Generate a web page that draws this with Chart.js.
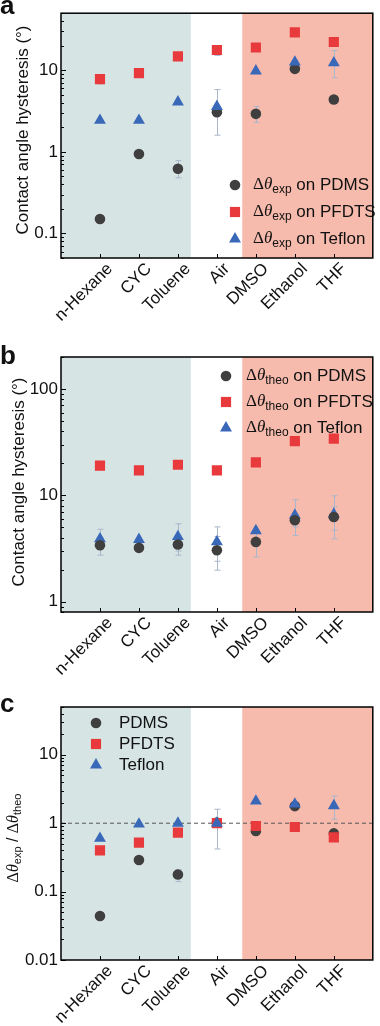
<!DOCTYPE html>
<html><head><meta charset="utf-8">
<script src="https://cdn.jsdelivr.net/npm/chart.js@4.4.1/dist/chart.umd.min.js"></script>
<style>
html,body{margin:0;padding:0;background:#fff;}
body{width:380px;height:1026px;position:relative;overflow:hidden;}
.pane{position:absolute;left:0;width:380px;}
canvas{display:block;}
</style></head><body>
<div class="pane" style="top:0;height:330px"><canvas id="ca" width="380" height="330"></canvas></div>
<div class="pane" style="top:330px;height:360px"><canvas id="cb" width="380" height="360"></canvas></div>
<div class="pane" style="top:670px;height:356px"><canvas id="cc" width="380" height="356"></canvas></div>
<script>
const categories = ['n-Hexane', 'CYC', 'Toluene', 'Air', 'DMSO', 'Ethanol', 'THF'];

// Panel a: experimental contact angle hysteresis (deg)
const expPDMS   = [0.15, 0.94, 0.62, 3.05, 2.92, 10.4, 4.38];
const expPFDTS  = [7.8, 9.2, 14.8, 17.7, 19.0, 29.1, 22.2];
const expTeflon = [2.43, 2.43, 4.08, 3.6, 9.8, 12.6, 12.3];
const expPDMSErr   = [null, null, [0.48, 0.78], null, [2.3, 3.6], null, null];
const expPFDTSErr  = [[6.8, 8.6], null, null, [15.2, 19.8], null, null, null];
const expTeflonErr = [null, null, null, [1.6, 5.8], null, null, [8.1, 17.4]];

// Panel b: theoretical contact angle hysteresis (deg)
const theoPDMS   = [3.40, 3.21, 3.45, 3.05, 3.65, 5.83, 6.26];
const theoPFDTS  = [19.0, 17.2, 19.4, 17.2, 20.4, 32.3, 34.2];
const theoTeflon = [3.9, 3.85, 4.1, 3.65, 4.65, 6.5, 6.65];
const theoPDMSErr   = [[2.74, 4.0], null, [2.74, 4.2], [1.98, 4.1], [2.64, 4.6], [5.05, 6.6], [4.7, 7.8]];
const theoTeflonErr = [[3.1, 4.8], null, [3.0, 5.4], [2.4, 5.05], null, [4.2, 9.1], [3.9, 9.9]];

// Panel c: ratio exp / theo
const ratioPDMS   = [0.044, 0.29, 0.178, 1.02, 0.77, 1.78, 0.71];
const ratioPFDTS  = [0.40, 0.52, 0.73, 1.0, 0.91, 0.88, 0.62];
const ratioTeflon = [0.60, 0.97, 1.0, 1.0, 2.1, 1.9, 1.8];
const ratioPDMSErr   = [null, null, [0.14, 0.21], null, null, null, null];
const ratioTeflonErr = [null, null, null, [0.42, 1.6], null, null, [1.14, 2.5]];
const ratioRefValue = 1;

// Axis ticks
const yTicksA = [0.1, 1, 10];
const yTickLabelsA = ['0.1', '1', '10'];
const yTicksB = [1, 10, 100];
const yTickLabelsB = ['1', '10', '100'];
const yTicksC = [0.01, 0.1, 1, 10];
const yTickLabelsC = ['0.01', '0.1', '1', '10'];

const COL_PDMS = '#3f3f3f', COL_PFDTS = '#e8393c', COL_TEF = '#3a68b8';
const TEAL = '#d6e5e4', PINK = '#f7bbad', ERR = '#a9b6cc';
const SANS = '"Liberation Sans", Arial, sans-serif';
const SERIF = '"Liberation Serif", "Times New Roman", serif';

Chart.defaults.font.family = SANS;
Chart.defaults.color = '#111';

function pts(vals) { return vals.map((v, i) => ({x: i + 1, y: v})); }

function drawRich(ctx, segs, x, y) {
  let cx = x;
  for (const s of segs) {
    ctx.font = s.font;
    ctx.fillText(s.t, cx, y + (s.dy || 0));
    cx += ctx.measureText(s.t).width;
  }
  return cx - x;
}
function richWidth(ctx, segs) {
  let w = 0;
  for (const s of segs) { ctx.font = s.font; w += ctx.measureText(s.t).width; }
  return w;
}

function makeDecor(cfg) {
  return {
    id: 'decor',
    beforeDatasetsDraw(chart) {
      const {ctx, chartArea: a, scales: {x, y}} = chart;
      ctx.save();
      for (const b of cfg.bands) {
        const x0 = Math.max(a.left, x.getPixelForValue(b.from));
        const x1 = Math.min(a.right, x.getPixelForValue(b.to));
        ctx.fillStyle = b.color;
        ctx.fillRect(x0, a.top, x1 - x0, a.bottom - a.top);
      }
      ctx.strokeStyle = ERR; ctx.lineWidth = 1;
      for (const set of cfg.errors) {
        set.forEach((e, i) => {
          if (!e) return;
          const px = Math.round(x.getPixelForValue(i + 1)) + 0.5;
          const p0 = y.getPixelForValue(e[0]), p1 = y.getPixelForValue(e[1]);
          ctx.beginPath();
          ctx.moveTo(px, p0); ctx.lineTo(px, p1);
          ctx.moveTo(px - 3, p0); ctx.lineTo(px + 3, p0);
          ctx.moveTo(px - 3, p1); ctx.lineTo(px + 3, p1);
          ctx.stroke();
        });
      }
      ctx.restore();
    },
    afterDraw(chart) {
      const {ctx, chartArea: a, scales: {x, y}} = chart;
      ctx.save();
      // ticks
      ctx.strokeStyle = '#000'; ctx.lineWidth = 1;
      ctx.beginPath();
      const lo = Math.floor(Math.log10(y.min)), hi = Math.ceil(Math.log10(y.max));
      for (let d = lo; d <= hi; d++) {
        for (let k = 1; k <= 9; k++) {
          const v = k * Math.pow(10, d);
          if (v < y.min * 0.999 || v > y.max * 1.001) continue;
          const py = Math.round(y.getPixelForValue(v)) + 0.5;
          const len = k === 1 ? 5 : 3;
          ctx.moveTo(a.left, py); ctx.lineTo(a.left + len, py);
        }
      }
      for (let i = 1; i <= categories.length; i++) {
        const px = Math.round(x.getPixelForValue(i)) + 0.5;
        ctx.moveTo(px, a.bottom); ctx.lineTo(px, a.bottom - 4);
      }
      ctx.stroke();
      // frame
      ctx.lineWidth = 1.5;
      ctx.strokeRect(a.left, a.top, a.right - a.left, a.bottom - a.top);
      // legend
      ctx.fillStyle = '#111';
      ctx.textBaseline = 'middle';
      for (const it of cfg.legend.items) {
        ctx.fillStyle = it.color;
        Chart.helpers.drawPoint(ctx, {pointStyle: it.style, radius: it.r, rotation: 0, borderWidth: 0}, cfg.legend.mx, it.y);
        ctx.fillStyle = '#111';
        drawRich(ctx, it.segs, cfg.legend.tx, it.y);
      }
      // y title
      ctx.save();
      ctx.translate(cfg.title.x, cfg.title.y);
      ctx.rotate(-Math.PI / 2);
      ctx.textBaseline = 'middle';
      const w = richWidth(ctx, cfg.title.segs);
      drawRich(ctx, cfg.title.segs, -w / 2, 0);
      ctx.restore();
      // panel letter
      ctx.font = 'bold 26px ' + SANS;
      ctx.textBaseline = 'alphabetic';
      ctx.fillText(cfg.letter.t, cfg.letter.x, cfg.letter.y);
      ctx.restore();
    }
  };
}

function legendSegs(sub, name) {
  return [
    {t: 'Δ', font: '17px ' + SERIF},
    {t: 'θ', font: 'italic 17px ' + SERIF},
    {t: sub, font: '12px ' + SANS, dy: 5},
    {t: ' on ' + name, font: '17px ' + SANS}
  ];
}

function makeChart(id, c) {
  const datasets = [
    {label: 'Teflon', data: pts(c.tef), pointStyle: 'triangle', pointRadius: 6.9, backgroundColor: COL_TEF, borderWidth: 0, order: c.orderTef},
    {label: 'PFDTS', data: pts(c.pfd), pointStyle: 'rect', pointRadius: 7.2, backgroundColor: COL_PFDTS, borderWidth: 0, order: 1},
    {label: 'PDMS', data: pts(c.pdms), pointStyle: 'circle', pointRadius: 5.3, backgroundColor: COL_PDMS, borderWidth: 0, order: c.orderPdms}
  ];
  if (c.refLine !== undefined) {
    datasets.push({type: 'line', data: [{x: 0, y: c.refLine}, {x: categories.length + 1, y: c.refLine}],
      borderColor: '#555', borderWidth: 1, borderDash: [4, 3], pointRadius: 0, order: 5});
  }
  return new Chart(document.getElementById(id), {
    type: 'scatter',
    data: {datasets},
    options: {
      responsive: false, animation: false, devicePixelRatio: 1,
      layout: {padding: {left: 0, right: 2, top: c.padTop, bottom: 0}},
      plugins: {legend: {display: false}, tooltip: {enabled: false}},
      scales: {
        x: {
          type: 'linear', min: 0, max: categories.length + 1,
          grid: {display: false, drawTicks: false}, border: {display: false},
          afterBuildTicks: s => { s.ticks = categories.map((_, i) => ({value: i + 1})); },
          afterFit: s => { s.height = c.xH; },
          ticks: {minRotation: 45, maxRotation: 45, autoSkip: false, padding: 1, labelOffset: 10,
            font: {size: 17}, color: '#111',
            callback: v => categories[v - 1] || ''}
        },
        y: {
          type: 'logarithmic', min: c.ymin, max: c.ymax,
          grid: {display: false, drawTicks: false}, border: {display: false},
          afterBuildTicks: s => { s.ticks = c.yTicks.map(v => ({value: v})); },
          afterFit: s => { s.width = 61; },
          ticks: {padding: 3, font: {size: 17}, color: '#111',
            callback: v => { const i = c.yTicks.indexOf(v); return i >= 0 ? c.yLabels[i] : ''; }}
        }
      }
    },
    plugins: [makeDecor(c.decor)]
  });
}

const bands = [{from: 0, to: 3.33, color: TEAL}, {from: 4.65, to: categories.length + 1, color: PINK}];
const titleCAH = [{t: 'Contact angle hysteresis (°)', font: '17px ' + SANS}];

makeChart('ca', {
  pdms: expPDMS, pfd: expPFDTS, tef: expTeflon, orderTef: 0, orderPdms: 2,
  ymin: 0.05, ymax: 50, yTicks: yTicksA, yLabels: yTickLabelsA, padTop: 3, xH: 72,
  decor: {
    bands, errors: [expPDMSErr, expPFDTSErr, expTeflonErr],
    legend: {mx: 235, tx: 253, items: [
      {style: 'circle', r: 5.3, color: COL_PDMS, y: 185, segs: legendSegs('exp', 'PDMS')},
      {style: 'rect', r: 7.2, color: COL_PFDTS, y: 212, segs: legendSegs('exp', 'PFDTS')},
      {style: 'triangle', r: 6.9, color: COL_TEF, y: 239, segs: legendSegs('exp', 'Teflon')}
    ]},
    title: {x: 23, y: 130, segs: titleCAH},
    letter: {t: 'a', x: 0, y: 14}
  }
});

makeChart('cb', {
  pdms: theoPDMS, pfd: theoPFDTS, tef: theoTeflon, orderTef: 2, orderPdms: 0,
  ymin: 0.8, ymax: 200, yTicks: yTicksB, yLabels: yTickLabelsB, padTop: 27, xH: 78,
  decor: {
    bands, errors: [theoPDMSErr, theoTeflonErr],
    legend: {mx: 226, tx: 246, items: [
      {style: 'circle', r: 5.3, color: COL_PDMS, y: 46, segs: legendSegs('theo', 'PDMS')},
      {style: 'rect', r: 7.2, color: COL_PFDTS, y: 72, segs: legendSegs('theo', 'PFDTS')},
      {style: 'triangle', r: 6.9, color: COL_TEF, y: 98, segs: legendSegs('theo', 'Teflon')}
    ]},
    title: {x: 19.5, y: 152, segs: titleCAH},
    letter: {t: 'b', x: 0, y: 34}
  }
});

makeChart('cc', {
  pdms: ratioPDMS, pfd: ratioPFDTS, tef: ratioTeflon, orderTef: 0, orderPdms: 2, refLine: ratioRefValue,
  ymin: 0.01, ymax: 50, yTicks: yTicksC, yLabels: yTickLabelsC, padTop: 37, xH: 66,
  decor: {
    bands, errors: [ratioPDMSErr, ratioTeflonErr],
    legend: {mx: 96, tx: 119, items: [
      {style: 'circle', r: 5.3, color: COL_PDMS, y: 53, segs: [{t: 'PDMS', font: '17px ' + SANS}]},
      {style: 'rect', r: 7.2, color: COL_PFDTS, y: 74, segs: [{t: 'PFDTS', font: '17px ' + SANS}]},
      {style: 'triangle', r: 6.9, color: COL_TEF, y: 95, segs: [{t: 'Teflon', font: '17px ' + SANS}]}
    ]},
    title: {x: 14, y: 168, segs: [
      {t: 'Δ', font: '16px ' + SERIF},
      {t: 'θ', font: 'italic 16px ' + SERIF},
      {t: 'exp', font: '11px ' + SANS, dy: 4},
      {t: ' / ', font: '16px ' + SANS},
      {t: 'Δ', font: '16px ' + SERIF},
      {t: 'θ', font: 'italic 16px ' + SERIF},
      {t: 'theo', font: '11px ' + SANS, dy: 4}
    ]},
    letter: {t: 'c', x: 0, y: 42}
  }
});
</script>
</body></html>
